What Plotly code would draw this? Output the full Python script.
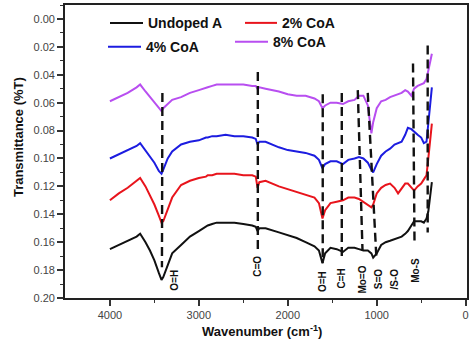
import plotly.graph_objects as go

# ---------------- data ----------------
wavenumber = [4000, 3900, 3800, 3700, 3660, 3600, 3550, 3500, 3450, 3420,
              3400, 3350, 3300, 3200, 3100, 3000, 2920, 2900, 2850, 2800,
              2700, 2600, 2500, 2400, 2360, 2340, 2320, 2250, 2100, 2000,
              1900, 1800, 1700, 1650, 1610, 1580, 1520, 1450, 1380, 1320,
              1250, 1200, 1150, 1100, 1060, 1040, 1000, 950, 900, 850,
              800, 760, 720, 680, 650, 610, 580, 540, 500, 470,
              440, 420, 400, 380]

undoped = [0.165, 0.162, 0.159, 0.156, 0.154, 0.160, 0.166, 0.173, 0.182, 0.187,
           0.185, 0.176, 0.168, 0.162, 0.156, 0.152, 0.149, 0.148, 0.147, 0.146,
           0.146, 0.146, 0.147, 0.148, 0.149, 0.152, 0.150, 0.150, 0.153, 0.155,
           0.157, 0.160, 0.163, 0.166, 0.175, 0.168, 0.164, 0.165, 0.167, 0.164,
           0.164, 0.165, 0.166, 0.166, 0.168, 0.171, 0.168, 0.162, 0.160, 0.159,
           0.158, 0.157, 0.156, 0.154, 0.152, 0.148, 0.145, 0.145, 0.145, 0.146,
           0.143, 0.138, 0.128, 0.117]

coa2 = [0.130, 0.125, 0.121, 0.116, 0.114, 0.120, 0.126, 0.133, 0.141, 0.146,
        0.145, 0.136, 0.128, 0.119, 0.116, 0.114, 0.113, 0.112, 0.112, 0.111,
        0.111, 0.111, 0.112, 0.112, 0.113, 0.121, 0.117, 0.116, 0.120, 0.122,
        0.124, 0.126, 0.128, 0.132, 0.143, 0.137, 0.132, 0.131, 0.130, 0.128,
        0.128, 0.129, 0.131, 0.133, 0.135, 0.133, 0.125, 0.121, 0.119, 0.118,
        0.121, 0.125, 0.121, 0.118, 0.118, 0.121, 0.123, 0.120, 0.118, 0.115,
        0.112, 0.100, 0.088, 0.075]

coa4 = [0.100, 0.097, 0.094, 0.091, 0.089, 0.094, 0.098, 0.103, 0.109, 0.111,
        0.108, 0.100, 0.095, 0.090, 0.088, 0.087, 0.085, 0.085, 0.084, 0.084,
        0.083, 0.084, 0.084, 0.085, 0.086, 0.090, 0.088, 0.088, 0.092, 0.094,
        0.095, 0.096, 0.098, 0.101, 0.107, 0.104, 0.102, 0.102, 0.104, 0.101,
        0.100, 0.099, 0.100, 0.103, 0.108, 0.110, 0.104, 0.098, 0.095, 0.093,
        0.090, 0.089, 0.088, 0.083, 0.078, 0.079, 0.081, 0.083, 0.085, 0.089,
        0.088, 0.076, 0.062, 0.049]

coa8 = [0.059, 0.056, 0.053, 0.049, 0.047, 0.052, 0.056, 0.060, 0.064, 0.066,
        0.064, 0.061, 0.058, 0.056, 0.053, 0.051, 0.049, 0.049, 0.048, 0.047,
        0.047, 0.047, 0.047, 0.048, 0.048, 0.050, 0.049, 0.050, 0.052, 0.054,
        0.055, 0.055, 0.057, 0.059, 0.064, 0.062, 0.060, 0.060, 0.061, 0.059,
        0.058, 0.055, 0.055, 0.062, 0.082, 0.074, 0.064, 0.059, 0.058, 0.056,
        0.055, 0.054, 0.053, 0.051, 0.052, 0.055, 0.050, 0.048, 0.047, 0.046,
        0.043, 0.038, 0.031, 0.025]

series_names = ["Undoped A", "2% CoA", "4% CoA", "8% CoA"]
series_colors = ["#111111", "#e8141c", "#1c1ce0", "#b84ef0"]

# band markers: wavenumber/y at top and bottom of each dashed line
band_w_top = [3410, 2337, 1607, 1393, 1213, 1101, 592, 427]
band_y_top = [0.053, 0.038, 0.054, 0.053, 0.051, 0.053, 0.032, 0.019]
band_w_bot = [3415, 2337, 1607, 1393, 1160, 1003, 575, 427]
band_y_bot = [0.178, 0.165, 0.175, 0.172, 0.166, 0.172, 0.162, 0.153]

# band labels
band_labels = ["O=H", "C=O", "O=H", "C=H", "Mo=O", "S=O", "/S-O", "Mo-S"]
label_w = [3270, 2337, 1607, 1400, 1157, 978, 795, 573]
label_y = [0.187, 0.177, 0.188, 0.186, 0.187, 0.186, 0.186, 0.180]

x_ticks = [4000, 3000, 2000, 1000, 0]
x_minor = [3500, 2500, 1500, 500]

# ---------------- figure ----------------
fig = go.Figure()
for name, vals, col in zip(series_names, [undoped, coa2, coa4, coa8], series_colors):
    fig.add_trace(go.Scatter(x=wavenumber, y=vals, mode="lines", name=name,
                             line=dict(color=col, width=2), showlegend=False))

shapes = []
for wt, yt, wb, yb in zip(band_w_top, band_y_top, band_w_bot, band_y_bot):
    shapes.append(dict(type="line", xref="x", yref="y", x0=wt, y0=yt, x1=wb, y1=yb,
                       line=dict(color="#111111", width=2.4, dash="9px,5px")))

annotations = []
FONT = "Arial, Liberation Sans, sans-serif"
for lab, lw, ly in zip(band_labels, label_w, label_y):
    annotations.append(dict(x=lw, y=ly, xref="x", yref="y", text="<b>%s</b>" % lab,
                            showarrow=False, textangle=-90,
                            font=dict(family=FONT, size=10, color="#111"),
                            xanchor="center", yanchor="middle"))

# manual legend (pixel positions converted to paper fractions)
L, R, T, B = 65, 467, 3, 298
def px(x):
    return (x - L) / (R - L)
def py(y):
    return (B - y) / (B - T)

legend_items = [(0, 110, 143, 21), (1, 245, 277, 21), (2, 108, 141, 45), (3, 235, 268, 40)]
for idx, x0, x1, yy in legend_items:
    shapes.append(dict(type="line", xref="paper", yref="paper", x0=px(x0), x1=px(x1),
                       y0=py(yy), y1=py(yy), line=dict(color=series_colors[idx], width=2)))
    annotations.append(dict(x=px(x1 + 3), y=py(yy), xref="paper", yref="paper",
                            text="<b>%s</b>" % series_names[idx], showarrow=False,
                            xanchor="left", yanchor="middle",
                            font=dict(family=FONT, size=14, color="#111")))

annotations.append(dict(x=px(18), y=py(136), xref="paper", yref="paper",
                        text="<b>Transmittance (%T)</b>", showarrow=False, textangle=-90,
                        font=dict(family=FONT, size=13, color="#111"),
                        xanchor="center", yanchor="middle"))
annotations.append(dict(x=px(262), y=py(331), xref="paper", yref="paper",
                        text="<b>Wavenumber (cm<sup>-1</sup>)</b>", showarrow=False,
                        font=dict(family=FONT, size=13, color="#111"),
                        xanchor="center", yanchor="middle"))

fig.update_layout(
    width=474, height=341,
    margin=dict(l=L, r=474 - R, t=T, b=341 - B),
    paper_bgcolor="white", plot_bgcolor="white",
    shapes=shapes, annotations=annotations,
    showlegend=False,
    xaxis=dict(range=[4505, -15], tickvals=x_ticks, ticktext=[str(v) for v in x_ticks],
               ticks="outside", ticklen=6, tickwidth=1.5, tickcolor="#333",
               minor=dict(tickvals=x_minor, ticks="outside", ticklen=3, tickwidth=1.2, tickcolor="#333"),
               showline=True, linecolor="#222", linewidth=1.6, mirror=True,
               showgrid=False, zeroline=False,
               tickfont=dict(family=FONT, size=11, color="#444")),
    yaxis=dict(range=[0.20, -0.01], tick0=0, dtick=0.02, tickformat=".2f",
               ticks="outside", ticklen=6, tickwidth=1.5, tickcolor="#333",
               minor=dict(dtick=0.01, ticks="outside", ticklen=3, tickwidth=1.2, tickcolor="#333"),
               showline=True, linecolor="#222", linewidth=1.6, mirror=True,
               showgrid=False, zeroline=False,
               tickfont=dict(family=FONT, size=11, color="#444")),
)

fig.write_html("out.html")
